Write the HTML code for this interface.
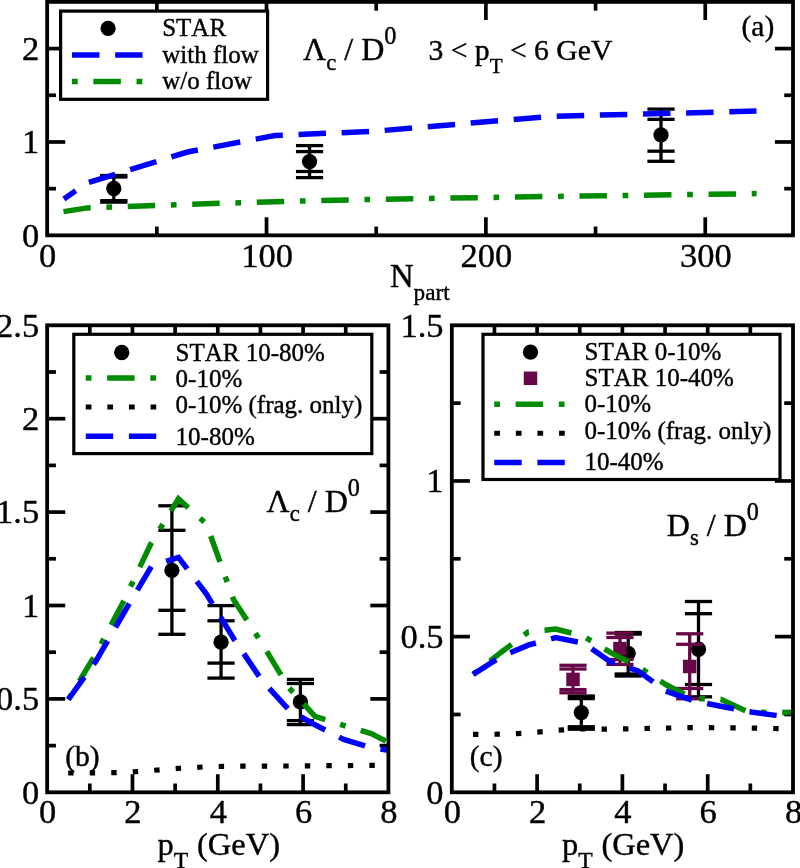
<!DOCTYPE html>
<html><head><meta charset="utf-8"><title>Charm hadron ratios</title>
<style>
html,body{margin:0;padding:0;background:#fff;}
svg{display:block;}
text{font-family:"Liberation Serif","DejaVu Serif",serif;fill:#000;font-kerning:none;font-variant-ligatures:none;stroke:#000;stroke-width:0.4px;}
</style></head><body>
<svg width="800" height="868" viewBox="0 0 800 868">
<rect x="0" y="0" width="800" height="868" fill="#fff"/>
<defs><clipPath id="ca"><rect x="47.15" y="1.9" width="745.85" height="233.45"/></clipPath></defs>
<line x1="266.52" y1="235.35" x2="266.52" y2="217.25" stroke="#000" stroke-width="3.7" />
<line x1="266.52" y1="1.90" x2="266.52" y2="20.00" stroke="#000" stroke-width="3.7" />
<line x1="485.89" y1="235.35" x2="485.89" y2="217.25" stroke="#000" stroke-width="3.7" />
<line x1="485.89" y1="1.90" x2="485.89" y2="20.00" stroke="#000" stroke-width="3.7" />
<line x1="705.25" y1="235.35" x2="705.25" y2="217.25" stroke="#000" stroke-width="3.7" />
<line x1="705.25" y1="1.90" x2="705.25" y2="20.00" stroke="#000" stroke-width="3.7" />
<line x1="156.83" y1="235.35" x2="156.83" y2="226.55" stroke="#000" stroke-width="3.7" />
<line x1="156.83" y1="1.90" x2="156.83" y2="10.70" stroke="#000" stroke-width="3.7" />
<line x1="376.20" y1="235.35" x2="376.20" y2="226.55" stroke="#000" stroke-width="3.7" />
<line x1="376.20" y1="1.90" x2="376.20" y2="10.70" stroke="#000" stroke-width="3.7" />
<line x1="595.57" y1="235.35" x2="595.57" y2="226.55" stroke="#000" stroke-width="3.7" />
<line x1="595.57" y1="1.90" x2="595.57" y2="10.70" stroke="#000" stroke-width="3.7" />
<line x1="47.15" y1="141.97" x2="65.25" y2="141.97" stroke="#000" stroke-width="3.7" />
<line x1="793.00" y1="141.97" x2="774.90" y2="141.97" stroke="#000" stroke-width="3.7" />
<line x1="47.15" y1="48.59" x2="65.25" y2="48.59" stroke="#000" stroke-width="3.7" />
<line x1="793.00" y1="48.59" x2="774.90" y2="48.59" stroke="#000" stroke-width="3.7" />
<line x1="47.15" y1="188.66" x2="55.95" y2="188.66" stroke="#000" stroke-width="3.7" />
<line x1="793.00" y1="188.66" x2="784.20" y2="188.66" stroke="#000" stroke-width="3.7" />
<line x1="47.15" y1="95.28" x2="55.95" y2="95.28" stroke="#000" stroke-width="3.7" />
<line x1="793.00" y1="95.28" x2="784.20" y2="95.28" stroke="#000" stroke-width="3.7" />
<line x1="113.80" y1="175.50" x2="113.80" y2="202.15" stroke="#000" stroke-width="3.3" />
<line x1="100.20" y1="175.50" x2="127.40" y2="175.50" stroke="#000" stroke-width="3.3" />
<line x1="100.20" y1="177.00" x2="127.40" y2="177.00" stroke="#000" stroke-width="3.3" />
<line x1="100.20" y1="200.65" x2="127.40" y2="200.65" stroke="#000" stroke-width="3.3" />
<line x1="100.20" y1="202.15" x2="127.40" y2="202.15" stroke="#000" stroke-width="3.3" />
<circle cx="113.80" cy="188.50" r="7.65" fill="#000"/>
<line x1="309.55" y1="145.60" x2="309.55" y2="177.60" stroke="#000" stroke-width="3.3" />
<line x1="295.95" y1="145.60" x2="323.15" y2="145.60" stroke="#000" stroke-width="3.3" />
<line x1="295.95" y1="151.60" x2="323.15" y2="151.60" stroke="#000" stroke-width="3.3" />
<line x1="295.95" y1="171.50" x2="323.15" y2="171.50" stroke="#000" stroke-width="3.3" />
<line x1="295.95" y1="177.60" x2="323.15" y2="177.60" stroke="#000" stroke-width="3.3" />
<circle cx="309.55" cy="161.60" r="7.65" fill="#000"/>
<line x1="661.00" y1="109.10" x2="661.00" y2="161.30" stroke="#000" stroke-width="3.3" />
<line x1="647.40" y1="109.10" x2="674.60" y2="109.10" stroke="#000" stroke-width="3.3" />
<line x1="647.40" y1="119.35" x2="674.60" y2="119.35" stroke="#000" stroke-width="3.3" />
<line x1="647.40" y1="151.20" x2="674.60" y2="151.20" stroke="#000" stroke-width="3.3" />
<line x1="647.40" y1="161.30" x2="674.60" y2="161.30" stroke="#000" stroke-width="3.3" />
<circle cx="661.00" cy="134.90" r="7.65" fill="#000"/>
<polyline points="63.90,198.90 87.00,183.00 187.50,152.00 274.80,135.50 375.00,131.20 550.00,116.40 756.50,111.10" fill="none" stroke="#0000ff" stroke-width="5.5" stroke-linejoin="miter" stroke-dasharray="27.45 15.7" stroke-dashoffset="13.1"/>
<polyline points="63.50,211.60 87.50,207.90 187.50,204.30 275.00,201.70 375.00,199.30 550.00,196.50 756.60,193.60" fill="none" stroke="#008b00" stroke-width="5.5" stroke-linejoin="miter" stroke-dasharray="27.45 15.7 5.7 15.7" stroke-dashoffset="0"/>
<rect x="47.15" y="1.90" width="745.85" height="233.45" fill="none" stroke="#000" stroke-width="3.8"/>
<text x="47.65" y="266.50" font-size="34.5" text-anchor="middle" >0</text>
<text x="267.02" y="266.50" font-size="34.5" text-anchor="middle" >100</text>
<text x="486.39" y="266.50" font-size="34.5" text-anchor="middle" >200</text>
<text x="705.75" y="266.50" font-size="34.5" text-anchor="middle" >300</text>
<text x="39.20" y="246.65" font-size="34.5" text-anchor="end" >0</text>
<text x="39.20" y="153.27" font-size="34.5" text-anchor="end" >1</text>
<text x="39.20" y="59.89" font-size="34.5" text-anchor="end" >2</text>
<text x="389.90" y="287.00" font-size="32.8" text-anchor="start" >N<tspan font-size="23.2" dy="12.9">part</tspan></text>
<rect x="60.6" y="11.1" width="207" height="88.2" fill="#fff" stroke="#000" stroke-width="3.2"/>
<circle cx="108.10" cy="28.40" r="7.65" fill="#000"/>
<line x1="72.00" y1="54.90" x2="142.50" y2="54.90" stroke="#0000ff" stroke-width="5.5" stroke-dasharray="27.45 15.7"/>
<line x1="72.00" y1="81.50" x2="142.50" y2="81.50" stroke="#008b00" stroke-width="5.5" stroke-dasharray="5.7 15.7 27.45 15.7"/>
<text x="162.20" y="36.20" font-size="25" text-anchor="start" >STAR</text>
<text x="162.20" y="63.10" font-size="25" text-anchor="start" >with flow</text>
<text x="162.20" y="89.30" font-size="25" text-anchor="start" >w/o flow</text>
<text x="303.00" y="60.00" font-size="32" text-anchor="start" >&#923;<tspan font-size="22.7" dy="9.7">c</tspan><tspan dy="-9.7"> / D</tspan><tspan font-size="24.2" dy="-15.7">0</tspan></text>
<text x="428.40" y="60.00" font-size="29.7" text-anchor="start" >3 &lt; p<tspan font-size="21" dy="12.5">T</tspan><tspan dy="-12.5"> &lt; 6 GeV</tspan></text>
<text x="741.50" y="36.00" font-size="29.5" text-anchor="start" >(a)</text>
<defs><clipPath id="cb"><rect x="47.15" y="325.3" width="341.25" height="466.99999999999994"/></clipPath></defs>
<line x1="132.46" y1="792.30" x2="132.46" y2="774.20" stroke="#000" stroke-width="3.7" />
<line x1="132.46" y1="325.30" x2="132.46" y2="343.40" stroke="#000" stroke-width="3.7" />
<line x1="217.78" y1="792.30" x2="217.78" y2="774.20" stroke="#000" stroke-width="3.7" />
<line x1="217.78" y1="325.30" x2="217.78" y2="343.40" stroke="#000" stroke-width="3.7" />
<line x1="303.09" y1="792.30" x2="303.09" y2="774.20" stroke="#000" stroke-width="3.7" />
<line x1="303.09" y1="325.30" x2="303.09" y2="343.40" stroke="#000" stroke-width="3.7" />
<line x1="89.81" y1="792.30" x2="89.81" y2="783.50" stroke="#000" stroke-width="3.7" />
<line x1="89.81" y1="325.30" x2="89.81" y2="334.10" stroke="#000" stroke-width="3.7" />
<line x1="175.12" y1="792.30" x2="175.12" y2="783.50" stroke="#000" stroke-width="3.7" />
<line x1="175.12" y1="325.30" x2="175.12" y2="334.10" stroke="#000" stroke-width="3.7" />
<line x1="260.43" y1="792.30" x2="260.43" y2="783.50" stroke="#000" stroke-width="3.7" />
<line x1="260.43" y1="325.30" x2="260.43" y2="334.10" stroke="#000" stroke-width="3.7" />
<line x1="345.74" y1="792.30" x2="345.74" y2="783.50" stroke="#000" stroke-width="3.7" />
<line x1="345.74" y1="325.30" x2="345.74" y2="334.10" stroke="#000" stroke-width="3.7" />
<line x1="47.15" y1="698.90" x2="65.25" y2="698.90" stroke="#000" stroke-width="3.7" />
<line x1="388.40" y1="698.90" x2="370.30" y2="698.90" stroke="#000" stroke-width="3.7" />
<line x1="47.15" y1="605.50" x2="65.25" y2="605.50" stroke="#000" stroke-width="3.7" />
<line x1="388.40" y1="605.50" x2="370.30" y2="605.50" stroke="#000" stroke-width="3.7" />
<line x1="47.15" y1="512.10" x2="65.25" y2="512.10" stroke="#000" stroke-width="3.7" />
<line x1="388.40" y1="512.10" x2="370.30" y2="512.10" stroke="#000" stroke-width="3.7" />
<line x1="47.15" y1="418.70" x2="65.25" y2="418.70" stroke="#000" stroke-width="3.7" />
<line x1="388.40" y1="418.70" x2="370.30" y2="418.70" stroke="#000" stroke-width="3.7" />
<line x1="47.15" y1="745.60" x2="55.95" y2="745.60" stroke="#000" stroke-width="3.7" />
<line x1="388.40" y1="745.60" x2="379.60" y2="745.60" stroke="#000" stroke-width="3.7" />
<line x1="47.15" y1="652.20" x2="55.95" y2="652.20" stroke="#000" stroke-width="3.7" />
<line x1="388.40" y1="652.20" x2="379.60" y2="652.20" stroke="#000" stroke-width="3.7" />
<line x1="47.15" y1="558.80" x2="55.95" y2="558.80" stroke="#000" stroke-width="3.7" />
<line x1="388.40" y1="558.80" x2="379.60" y2="558.80" stroke="#000" stroke-width="3.7" />
<line x1="47.15" y1="465.40" x2="55.95" y2="465.40" stroke="#000" stroke-width="3.7" />
<line x1="388.40" y1="465.40" x2="379.60" y2="465.40" stroke="#000" stroke-width="3.7" />
<line x1="47.15" y1="372.00" x2="55.95" y2="372.00" stroke="#000" stroke-width="3.7" />
<line x1="388.40" y1="372.00" x2="379.60" y2="372.00" stroke="#000" stroke-width="3.7" />
<line x1="171.90" y1="505.80" x2="171.90" y2="634.30" stroke="#000" stroke-width="3.3" />
<line x1="158.30" y1="505.80" x2="185.50" y2="505.80" stroke="#000" stroke-width="3.3" />
<line x1="158.30" y1="530.30" x2="185.50" y2="530.30" stroke="#000" stroke-width="3.3" />
<line x1="158.30" y1="610.30" x2="185.50" y2="610.30" stroke="#000" stroke-width="3.3" />
<line x1="158.30" y1="634.30" x2="185.50" y2="634.30" stroke="#000" stroke-width="3.3" />
<circle cx="171.90" cy="570.30" r="7.65" fill="#000"/>
<line x1="221.05" y1="605.60" x2="221.05" y2="678.10" stroke="#000" stroke-width="3.3" />
<line x1="207.45" y1="605.60" x2="234.65" y2="605.60" stroke="#000" stroke-width="3.3" />
<line x1="207.45" y1="620.80" x2="234.65" y2="620.80" stroke="#000" stroke-width="3.3" />
<line x1="207.45" y1="663.10" x2="234.65" y2="663.10" stroke="#000" stroke-width="3.3" />
<line x1="207.45" y1="678.10" x2="234.65" y2="678.10" stroke="#000" stroke-width="3.3" />
<circle cx="221.05" cy="642.20" r="7.65" fill="#000"/>
<line x1="300.40" y1="679.40" x2="300.40" y2="724.60" stroke="#000" stroke-width="3.3" />
<line x1="286.80" y1="679.40" x2="314.00" y2="679.40" stroke="#000" stroke-width="3.3" />
<line x1="286.80" y1="683.50" x2="314.00" y2="683.50" stroke="#000" stroke-width="3.3" />
<line x1="286.80" y1="720.60" x2="314.00" y2="720.60" stroke="#000" stroke-width="3.3" />
<line x1="286.80" y1="724.60" x2="314.00" y2="724.60" stroke="#000" stroke-width="3.3" />
<circle cx="300.40" cy="701.90" r="7.65" fill="#000"/>
<polyline points="68.20,773.00 123.50,772.60 151.00,770.50 178.50,768.40 206.10,766.80 233.60,766.20 288.60,766.00 376.20,765.30" fill="none" stroke="#000" stroke-width="5.2" stroke-linejoin="miter" stroke-dasharray="5.4 16.13" stroke-dashoffset="0"/>
<polyline points="68.30,699.50 96.00,653.60 123.50,601.50 151.00,543.50 178.40,498.80 206.30,523.80 233.60,599.80 261.10,642.00 288.60,687.50 315.00,716.30 343.60,725.40 371.20,733.60 398.70,747.70" fill="none" stroke="#008b00" stroke-width="5.5" stroke-linejoin="miter" stroke-dasharray="27.45 15.7 5.7 15.7" stroke-dashoffset="43.15" clip-path="url(#cb)"/>
<polyline points="68.30,699.50 96.00,661.00 123.50,613.50 151.50,566.30 178.50,557.40 206.10,593.50 233.60,638.50 261.10,679.30 288.60,709.50 315.00,724.80 343.60,739.40 371.20,747.70 398.70,752.00" fill="none" stroke="#0000ff" stroke-width="5.5" stroke-linejoin="miter" stroke-dasharray="27.45 15.7" stroke-dashoffset="0" clip-path="url(#cb)"/>
<rect x="47.15" y="325.30" width="341.25" height="467.00" fill="none" stroke="#000" stroke-width="3.8"/>
<text x="47.65" y="822.60" font-size="34.5" text-anchor="middle" >0</text>
<text x="132.96" y="822.60" font-size="34.5" text-anchor="middle" >2</text>
<text x="218.28" y="822.60" font-size="34.5" text-anchor="middle" >4</text>
<text x="303.59" y="822.60" font-size="34.5" text-anchor="middle" >6</text>
<text x="388.90" y="822.60" font-size="34.5" text-anchor="middle" >8</text>
<text x="39.20" y="803.60" font-size="34.5" text-anchor="end" >0</text>
<text x="39.20" y="710.20" font-size="34.5" text-anchor="end" >0.5</text>
<text x="39.20" y="616.80" font-size="34.5" text-anchor="end" >1</text>
<text x="39.20" y="523.40" font-size="34.5" text-anchor="end" >1.5</text>
<text x="39.20" y="430.00" font-size="34.5" text-anchor="end" >2</text>
<text x="39.20" y="336.60" font-size="34.5" text-anchor="end" >2.5</text>
<text x="157.60" y="855.20" font-size="32.5" text-anchor="start" >p<tspan font-size="23.6" dy="12.5">T</tspan><tspan dy="-12.5" dx="0.6"> (GeV)</tspan></text>
<rect x="73.8" y="334.3" width="298" height="119.3" fill="#fff" stroke="#000" stroke-width="3.2"/>
<circle cx="121.75" cy="352.50" r="7.65" fill="#000"/>
<line x1="85.75" y1="378.00" x2="156.25" y2="378.00" stroke="#008b00" stroke-width="5.5" stroke-dasharray="5.7 15.7 27.45 15.7"/>
<line x1="85.75" y1="407.00" x2="156.25" y2="407.00" stroke="#000" stroke-width="5.2" stroke-dasharray="5.7 15.9"/>
<line x1="85.75" y1="436.25" x2="156.25" y2="436.25" stroke="#0000ff" stroke-width="5.5" stroke-dasharray="27.45 15.7"/>
<text x="175.60" y="360.50" font-size="25" text-anchor="start" >STAR 10-80%</text>
<text x="175.60" y="386.70" font-size="25" text-anchor="start" >0-10%</text>
<text x="175.60" y="412.60" font-size="25" text-anchor="start" >0-10% (frag. only)</text>
<text x="175.60" y="444.70" font-size="25" text-anchor="start" >10-80%</text>
<text x="266.50" y="511.70" font-size="32" text-anchor="start" >&#923;<tspan font-size="22.7" dy="9.7">c</tspan><tspan dy="-9.7"> / D</tspan><tspan font-size="24.2" dy="-15.7">0</tspan></text>
<text x="65.20" y="766.00" font-size="29.5" text-anchor="start" >(b)</text>
<defs><clipPath id="cc"><rect x="451.8" y="325.3" width="341.2" height="466.99999999999994"/></clipPath></defs>
<line x1="537.10" y1="792.30" x2="537.10" y2="774.20" stroke="#000" stroke-width="3.7" />
<line x1="537.10" y1="325.30" x2="537.10" y2="343.40" stroke="#000" stroke-width="3.7" />
<line x1="622.40" y1="792.30" x2="622.40" y2="774.20" stroke="#000" stroke-width="3.7" />
<line x1="622.40" y1="325.30" x2="622.40" y2="343.40" stroke="#000" stroke-width="3.7" />
<line x1="707.70" y1="792.30" x2="707.70" y2="774.20" stroke="#000" stroke-width="3.7" />
<line x1="707.70" y1="325.30" x2="707.70" y2="343.40" stroke="#000" stroke-width="3.7" />
<line x1="494.45" y1="792.30" x2="494.45" y2="783.50" stroke="#000" stroke-width="3.7" />
<line x1="494.45" y1="325.30" x2="494.45" y2="334.10" stroke="#000" stroke-width="3.7" />
<line x1="579.75" y1="792.30" x2="579.75" y2="783.50" stroke="#000" stroke-width="3.7" />
<line x1="579.75" y1="325.30" x2="579.75" y2="334.10" stroke="#000" stroke-width="3.7" />
<line x1="665.05" y1="792.30" x2="665.05" y2="783.50" stroke="#000" stroke-width="3.7" />
<line x1="665.05" y1="325.30" x2="665.05" y2="334.10" stroke="#000" stroke-width="3.7" />
<line x1="750.35" y1="792.30" x2="750.35" y2="783.50" stroke="#000" stroke-width="3.7" />
<line x1="750.35" y1="325.30" x2="750.35" y2="334.10" stroke="#000" stroke-width="3.7" />
<line x1="451.80" y1="636.63" x2="469.90" y2="636.63" stroke="#000" stroke-width="3.7" />
<line x1="793.00" y1="636.63" x2="774.90" y2="636.63" stroke="#000" stroke-width="3.7" />
<line x1="451.80" y1="480.97" x2="469.90" y2="480.97" stroke="#000" stroke-width="3.7" />
<line x1="793.00" y1="480.97" x2="774.90" y2="480.97" stroke="#000" stroke-width="3.7" />
<line x1="451.80" y1="714.47" x2="460.60" y2="714.47" stroke="#000" stroke-width="3.7" />
<line x1="793.00" y1="714.47" x2="784.20" y2="714.47" stroke="#000" stroke-width="3.7" />
<line x1="451.80" y1="558.80" x2="460.60" y2="558.80" stroke="#000" stroke-width="3.7" />
<line x1="793.00" y1="558.80" x2="784.20" y2="558.80" stroke="#000" stroke-width="3.7" />
<line x1="451.80" y1="403.13" x2="460.60" y2="403.13" stroke="#000" stroke-width="3.7" />
<line x1="793.00" y1="403.13" x2="784.20" y2="403.13" stroke="#000" stroke-width="3.7" />
<polyline points="473.00,734.40 500.60,734.20 528.10,733.00 555.70,730.30 583.20,728.80 610.70,729.20 638.20,728.60 693.20,727.60 748.20,728.00 779.20,728.60" fill="none" stroke="#000" stroke-width="5.2" stroke-linejoin="miter" stroke-dasharray="5.4 16.06" stroke-dashoffset="0"/>
<line x1="581.30" y1="696.00" x2="581.30" y2="729.20" stroke="#000" stroke-width="3.3" />
<line x1="567.70" y1="696.00" x2="594.90" y2="696.00" stroke="#000" stroke-width="3.3" />
<line x1="567.70" y1="698.60" x2="594.90" y2="698.60" stroke="#000" stroke-width="3.3" />
<line x1="567.70" y1="726.75" x2="594.90" y2="726.75" stroke="#000" stroke-width="3.3" />
<line x1="567.70" y1="729.20" x2="594.90" y2="729.20" stroke="#000" stroke-width="3.3" />
<circle cx="581.30" cy="712.60" r="7.65" fill="#000"/>
<line x1="628.20" y1="632.50" x2="628.20" y2="676.00" stroke="#000" stroke-width="3.3" />
<line x1="614.60" y1="632.50" x2="641.80" y2="632.50" stroke="#000" stroke-width="3.3" />
<line x1="614.60" y1="634.10" x2="641.80" y2="634.10" stroke="#000" stroke-width="3.3" />
<line x1="614.60" y1="674.00" x2="641.80" y2="674.00" stroke="#000" stroke-width="3.3" />
<line x1="614.60" y1="676.00" x2="641.80" y2="676.00" stroke="#000" stroke-width="3.3" />
<circle cx="628.20" cy="653.30" r="7.65" fill="#000"/>
<line x1="698.50" y1="601.50" x2="698.50" y2="696.80" stroke="#000" stroke-width="3.3" />
<line x1="684.90" y1="601.50" x2="712.10" y2="601.50" stroke="#000" stroke-width="3.3" />
<line x1="684.90" y1="613.70" x2="712.10" y2="613.70" stroke="#000" stroke-width="3.3" />
<line x1="684.90" y1="684.50" x2="712.10" y2="684.50" stroke="#000" stroke-width="3.3" />
<line x1="684.90" y1="696.80" x2="712.10" y2="696.80" stroke="#000" stroke-width="3.3" />
<circle cx="698.50" cy="649.25" r="7.65" fill="#000"/>
<line x1="573.00" y1="665.30" x2="573.00" y2="692.80" stroke="#670748" stroke-width="3.3" />
<line x1="559.40" y1="665.30" x2="586.60" y2="665.30" stroke="#670748" stroke-width="3.3" />
<line x1="559.40" y1="669.00" x2="586.60" y2="669.00" stroke="#670748" stroke-width="3.3" />
<line x1="559.40" y1="689.60" x2="586.60" y2="689.60" stroke="#670748" stroke-width="3.3" />
<line x1="559.40" y1="692.80" x2="586.60" y2="692.80" stroke="#670748" stroke-width="3.3" />
<rect x="566.25" y="672.65" width="13.5" height="13.5" fill="#670748"/>
<line x1="619.95" y1="633.10" x2="619.95" y2="664.40" stroke="#670748" stroke-width="3.3" />
<line x1="606.35" y1="633.10" x2="633.55" y2="633.10" stroke="#670748" stroke-width="3.3" />
<line x1="606.35" y1="637.50" x2="633.55" y2="637.50" stroke="#670748" stroke-width="3.3" />
<line x1="606.35" y1="659.50" x2="633.55" y2="659.50" stroke="#670748" stroke-width="3.3" />
<line x1="606.35" y1="664.40" x2="633.55" y2="664.40" stroke="#670748" stroke-width="3.3" />
<rect x="613.20" y="641.85" width="13.5" height="13.5" fill="#670748"/>
<line x1="689.70" y1="633.80" x2="689.70" y2="698.75" stroke="#670748" stroke-width="3.3" />
<line x1="676.10" y1="633.80" x2="703.30" y2="633.80" stroke="#670748" stroke-width="3.3" />
<line x1="676.10" y1="644.30" x2="703.30" y2="644.30" stroke="#670748" stroke-width="3.3" />
<line x1="676.10" y1="688.50" x2="703.30" y2="688.50" stroke="#670748" stroke-width="3.3" />
<line x1="676.10" y1="698.75" x2="703.30" y2="698.75" stroke="#670748" stroke-width="3.3" />
<rect x="682.95" y="659.75" width="13.5" height="13.5" fill="#670748"/>
<polyline points="473.10,674.40 500.60,652.70 528.10,632.00 555.70,629.10 583.20,636.00 610.70,652.60 638.20,666.50 665.70,684.50 693.20,698.50 720.70,699.20 748.20,712.10 775.70,712.60 803.20,712.00" fill="none" stroke="#008b00" stroke-width="5.5" stroke-linejoin="miter" stroke-dasharray="27.45 15.7 5.7 15.7" stroke-dashoffset="43.15" clip-path="url(#cc)"/>
<polyline points="473.10,674.40 500.60,656.80 528.10,645.20 555.70,637.50 583.20,643.00 610.70,662.00 638.20,671.00 665.70,691.00 693.20,700.60 720.70,706.20 748.20,711.60 775.70,715.40 803.20,719.00" fill="none" stroke="#0000ff" stroke-width="5.5" stroke-linejoin="miter" stroke-dasharray="27.45 15.7" stroke-dashoffset="0" clip-path="url(#cc)"/>
<rect x="451.80" y="325.30" width="341.20" height="467.00" fill="none" stroke="#000" stroke-width="3.8"/>
<text x="452.30" y="822.60" font-size="34.5" text-anchor="middle" >0</text>
<text x="537.60" y="822.60" font-size="34.5" text-anchor="middle" >2</text>
<text x="622.90" y="822.60" font-size="34.5" text-anchor="middle" >4</text>
<text x="708.20" y="822.60" font-size="34.5" text-anchor="middle" >6</text>
<text x="793.50" y="822.60" font-size="34.5" text-anchor="middle" >8</text>
<text x="443.50" y="803.60" font-size="34.5" text-anchor="end" >0</text>
<text x="443.50" y="647.93" font-size="34.5" text-anchor="end" >0.5</text>
<text x="443.50" y="492.27" font-size="34.5" text-anchor="end" >1</text>
<text x="443.50" y="336.60" font-size="34.5" text-anchor="end" >1.5</text>
<text x="562.00" y="855.20" font-size="32.5" text-anchor="start" >p<tspan font-size="23.6" dy="12.5">T</tspan><tspan dy="-12.5" dx="0.6"> (GeV)</tspan></text>
<rect x="483" y="334.3" width="297" height="145.2" fill="#fff" stroke="#000" stroke-width="3.2"/>
<circle cx="530.50" cy="352.20" r="7.65" fill="#000"/>
<rect x="523.75" y="371.55" width="13.5" height="13.5" fill="#670748"/>
<line x1="494.25" y1="404.25" x2="564.75" y2="404.25" stroke="#008b00" stroke-width="5.5" stroke-dasharray="5.7 15.7 27.45 15.7"/>
<line x1="494.25" y1="433.25" x2="564.75" y2="433.25" stroke="#000" stroke-width="5.2" stroke-dasharray="5.7 15.9"/>
<line x1="494.25" y1="462.50" x2="564.75" y2="462.50" stroke="#0000ff" stroke-width="5.5" stroke-dasharray="27.45 15.7"/>
<text x="584.50" y="360.40" font-size="25" text-anchor="start" >STAR 0-10%</text>
<text x="584.50" y="386.40" font-size="25" text-anchor="start" >STAR 10-40%</text>
<text x="584.50" y="412.40" font-size="25" text-anchor="start" >0-10%</text>
<text x="584.50" y="439.10" font-size="25" text-anchor="start" >0-10% (frag. only)</text>
<text x="584.50" y="470.20" font-size="25" text-anchor="start" >10-40%</text>
<text x="666.80" y="535.50" font-size="32" text-anchor="start" >D<tspan font-size="22.7" dy="9.7">s</tspan><tspan dy="-9.7"> / D</tspan><tspan font-size="24.2" dy="-15.7">0</tspan></text>
<text x="469.80" y="766.00" font-size="29.5" text-anchor="start" >(c)</text>
</svg>
</body></html>
